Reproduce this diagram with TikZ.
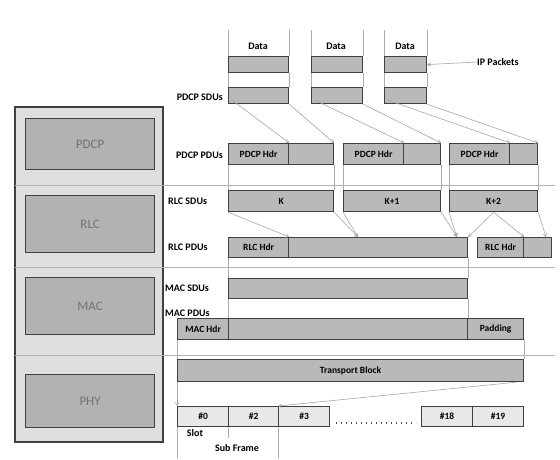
\documentclass[tikz,border=0pt]{standalone}
\usepackage{fontspec}
\setmainfont{Carlito}
\usetikzlibrary{arrows.meta,calc}
\tikzset{
  blk/.style={draw=black!75, line width=1.2pt, fill=gray!55, inner sep=0pt,
    anchor=north west, font=\bfseries\fontsize{9.5}{11}\selectfont},
  slotbox/.style={blk, fill=gray!18, minimum width=51, minimum height=20},
  layerbox/.style={blk, fill=gray!60, minimum width=129,
    font=\fontsize{13}{15}\selectfont, text=black!55},
  lbl/.style={font=\bfseries\fontsize{10}{12}\selectfont, inner sep=0pt},
  guide/.style={draw=gray!65, line width=0.5pt},
  sep/.style={draw=gray!60, line width=0.8pt},
  arr/.style={draw=gray!70, line width=0.6pt, -{Straight Barb[length=3pt,width=3.5pt]}},
}
\begin{document}
\begin{tikzpicture}[x=1pt,y=-1pt]
\useasboundingbox (0,0) rectangle (560,460);
% layer panel
\draw[draw=black!75, line width=1.2pt, fill=gray!25] (15,107) rectangle (163,442);
\draw[sep] (15,185) -- (555,185);
\draw[sep] (15,267) -- (555,267);
\draw[sep] (15,355) -- (555,355);
\node[layerbox, minimum height=51] (pdcp) at (25,118) {PDCP};
\node[layerbox, minimum height=57] (rlc) at (25,195) {RLC};
\node[layerbox, minimum height=57] (mac) at (25,277) {MAC};
\node[layerbox, minimum height=53] (phy) at (25,374) {PHY};
% IP packets and PDCP SDUs
\node[blk, minimum width=60, minimum height=16] (ip1) at (228,56) {};
\node[blk, minimum width=51, minimum height=16] (ip2) at (311,56) {};
\node[blk, minimum width=42, minimum height=16] (ip3) at (384,56) {};
\node[blk, minimum width=60, minimum height=16] (sdu1) at (228,87) {};
\node[blk, minimum width=51, minimum height=16] (sdu2) at (311,87) {};
\node[blk, minimum width=42, minimum height=16] (sdu3) at (384,87) {};
\node[lbl] (data1) at (258,46) {Data};
\node[lbl] (data2) at (336,46) {Data};
\node[lbl] (data3) at (405,46) {Data};
\foreach \i in {1,2,3} {
  \draw[guide] (ip\i.north west) -- ++(0,-26);
  \draw[guide] (ip\i.north east) -- ++(0,-26);
  \draw[guide] (ip\i.south west) -- (sdu\i.north west);
  \draw[guide] (ip\i.south east) -- (sdu\i.north east);
}
\node[lbl, anchor=west] (iplbl) at (477,62) {IP Packets};
\draw[arr] (iplbl.west) -- (ip3.east);
\node[lbl, anchor=east] (pdcpsdu) at (223,97) {PDCP SDUs};
% PDCP PDUs
\node[lbl, anchor=east] (pdcppdu) at (223,155) {PDCP PDUs};
\node[blk, minimum width=60, minimum height=21] (ph1) at (228,143) {PDCP Hdr};
\node[blk, minimum width=45, minimum height=21] (pd1) at (288,143) {};
\node[blk, minimum width=60, minimum height=21] (ph2) at (343,143) {PDCP Hdr};
\node[blk, minimum width=37, minimum height=21] (pd2) at (403,143) {};
\node[blk, minimum width=60, minimum height=21] (ph3) at (449,143) {PDCP Hdr};
\node[blk, minimum width=28, minimum height=21] (pd3) at (509,143) {};
\foreach \i in {1,2,3} {
  \draw[arr] ($(sdu\i.south west)+(4,-4)$) -- (ph\i.north east);
  \draw[arr] (sdu\i.south east) -- (pd\i.north east);
}
% RLC SDUs
\node[lbl, anchor=west] (rlcsdu) at (168,201) {RLC SDUs};
\node[blk, minimum width=105, minimum height=21] (k0) at (228,190) {K};
\node[blk, minimum width=97, minimum height=21] (k1) at (343,190) {K+1};
\node[blk, minimum width=88, minimum height=21] (k2) at (449,190) {K+2};
\foreach \i/\k in {1/0,2/1,3/2} {
  \draw[guide] (ph\i.south west) -- (k\k.north west);
  \draw[guide] (pd\i.south east) -- (k\k.north east);
}
% RLC PDUs
\node[lbl, anchor=west] (rlcpdu) at (168,247) {RLC PDUs};
\node[blk, minimum width=60, minimum height=20] (rh1) at (228,237) {RLC Hdr};
\node[blk, minimum width=179, minimum height=20] (rd1) at (288,237) {};
\node[blk, minimum width=46, minimum height=20] (rh2) at (477,237) {RLC Hdr};
\node[blk, minimum width=28, minimum height=20] (rd2) at (523,237) {};
\coordinate (j1) at (358,237);
\coordinate (j2) at (457,237);
\coordinate (j3) at (546,237);
\draw[arr] (k0.south west) -- (rh1.north east);
\draw[arr] (k0.south east) -- (j1);
\draw[arr] (k1.south west) -- (j1);
\draw[arr] (k1.south east) -- (j2);
\draw[arr] (k2.south west) -- (j2);
\draw[arr] (k2.south) -- (rd1.north east);
\draw[arr] (k2.south) -- (rh2.north east);
\draw[arr] (k2.south east) -- (j3);
% MAC SDUs and PDUs
\node[lbl, anchor=west] (macsdu) at (165,288) {MAC SDUs};
\node[lbl, anchor=west] (macpdu) at (165,313) {MAC PDUs};
\node[blk, minimum width=239, minimum height=20] (msdu) at (228,278) {};
\draw[guide] (rh1.south west) -- (msdu.north west);
\draw[guide] (rd1.south east) -- (msdu.north east);
\node[blk, minimum width=51, minimum height=21] (mh) at (177,318) {MAC Hdr};
\node[blk, minimum width=239, minimum height=21] (md) at (228,318) {};
\node[blk, minimum width=56, minimum height=21] (mpad) at (467,318) {Padding};
\draw[guide] (msdu.south west) -- (md.north west);
\draw[guide] (msdu.south east) -- (md.north east);
% transport block and slots
\node[blk, minimum width=346, minimum height=22] (tb) at (177,359) {Transport Block};
\draw[guide] (mh.south west) -- (tb.north west);
\draw[guide] (mpad.south east) -- (tb.north east);
\node[slotbox] (s0) at (177,406) {\#0};
\node[slotbox, minimum width=50] (s2) at (228,406) {\#2};
\node[slotbox] (s3) at (278,406) {\#3};
\node[slotbox] (s18) at (421,406) {\#18};
\node[slotbox] (s19) at (472,406) {\#19};
\draw[line width=1.1pt, black!70, dash pattern=on 1.1pt off 3.9pt] (336,423) -- (416,423);
\draw[arr] (tb.south west) -- (s0.north west);
\draw[arr] ($(tb.south east)+(-8,0)$) -- (s3.north west);
\draw[guide] (s0.south west) -- ++(0,31);
\draw[guide] (s2.south west) -- ++(0,11);
\draw[guide] (s3.south west) -- ++(0,31);
\node[lbl] (slot) at (195,433) {Slot};
\node[lbl] (subframe) at (237,448) {Sub Frame};
\end{tikzpicture}
\end{document}
